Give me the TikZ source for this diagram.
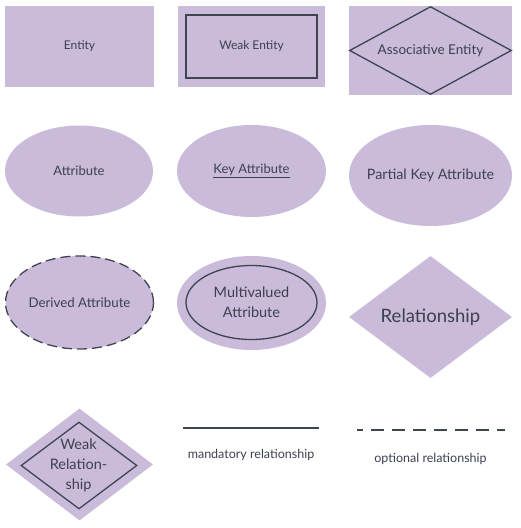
\documentclass[tikz,border=0pt]{standalone}
\usepackage{fontspec}
\setmainfont{Lato}
\usetikzlibrary{shapes.geometric}
\definecolor{erfill}{HTML}{CBBBDB}
\definecolor{erline}{HTML}{3F4451}
\definecolor{ertext}{HTML}{3D4050}
\tikzset{
  shp/.style={fill=erfill, draw=none, inner sep=0pt, text=ertext, font=\fontsize{12}{14}\selectfont, align=center},
  outl/.style={draw=erline, line width=1.3pt, fill=none, inner sep=0pt},
  rectbox/.style={shp, rectangle},
  ellbox/.style={shp, ellipse},
  diabox/.style={shp, diamond},
  lbl/.style={text=ertext, inner sep=0pt, align=center},
}
\begin{document}
\begin{tikzpicture}[x=1pt,y=-1pt]
\useasboundingbox (0,0) rectangle (520,528);
% row 1
\node[rectbox, minimum width=149pt, minimum height=81pt] (entity) at (79.5,46.5) {Entity};
\node[rectbox, minimum width=147pt, minimum height=81pt] (weakent) at (251.5,46.5) {};
\node[outl, rectangle, minimum width=131pt, minimum height=63pt, text=ertext, font=\fontsize{12}{14}\selectfont] (weakentin) at (251.5,46.5) {Weak Entity};
\node[rectbox, minimum width=163pt, minimum height=89pt] (assoc) at (430.5,50.5) {};
\node[outl, diamond, minimum width=162pt, minimum height=88pt] (assocd) at (430.5,50.5) {};
\node[lbl, font=\fontsize{13.5}{15}\selectfont] (assoct) at (assocd.center) {Associative Entity};
% row 2
\node[ellbox, minimum width=148pt, minimum height=91pt, font=\fontsize{13}{15}\selectfont] (attr) at (79,171) {Attribute};
\node[ellbox, minimum width=149pt, minimum height=92pt, font=\fontsize{13}{15}\selectfont] (keyattr) at (251.5,171) {\underline{Key Attribute}};
\node[ellbox, minimum width=163pt, minimum height=101pt] (pkattr) at (430.5,175.5) {};
\node[lbl, font=\fontsize{14.3}{16}\selectfont] (pkattrt) at (pkattr.center) {Partial Key Attribute};
% row 3
\node[ellbox, draw=erline, line width=1.3pt, dash pattern=on 10pt off 5pt, minimum width=148pt, minimum height=93pt, font=\fontsize{13.3}{15}\selectfont] (derived) at (79.5,302.5) {Derived Attribute};
\node[ellbox, minimum width=149pt, minimum height=94pt] (multi) at (251.5,303) {};
\node[outl, ellipse, minimum width=131pt, minimum height=74pt, text=ertext, align=center, font=\fontsize{14.5}{20}\selectfont] (multiin) at (251.5,302.5) {Multivalued\\Attribute};
\node[diabox, minimum width=163pt, minimum height=122pt, font=\fontsize{18.5}{21}\selectfont] (rel) at (430.5,317) {Relationship};
% row 4
\node[diabox, minimum width=147pt, minimum height=112pt] (weakrel) at (79.5,464.5) {};
\node[outl, diamond, minimum width=116pt, minimum height=87pt] (weakrelin) at (79,465.5) {};
\node[lbl, font=\fontsize{14.5}{20}\selectfont] (weakrelt) at (78.5,465) {Weak\\Relation-\\ship};
\coordinate (m1) at (183,428);
\coordinate (m2) at (319,428);
\draw[erline, line width=1.2pt] (m1) -- (m2);
\node[lbl, font=\fontsize{12.5}{14}\selectfont] (mandt) at (251,455) {mandatory relationship};
\coordinate (o1) at (357,430);
\coordinate (o2) at (505,430);
\draw[erline, line width=1.2pt, dash pattern=on 13pt off 8pt, dash phase=7pt] (o1) -- (o2);
\node[lbl, font=\fontsize{12.5}{14}\selectfont] (optt) at (430.5,459) {optional relationship};
\end{tikzpicture}
\end{document}
